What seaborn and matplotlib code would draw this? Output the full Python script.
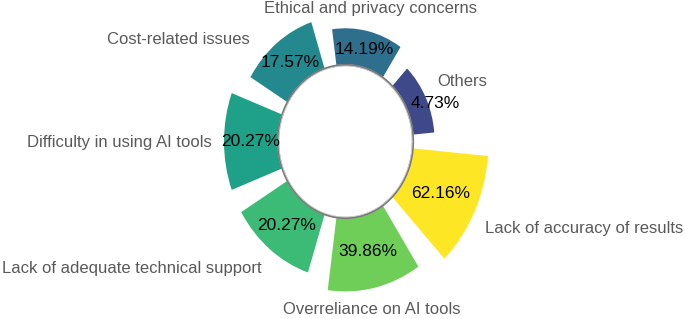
import numpy as np
import matplotlib
matplotlib.use("Agg")
import matplotlib.pyplot as plt
import seaborn as sns

# data, ascending, placed counter-clockwise starting from "Others"
categories = ["Others", "Ethical and privacy concerns", "Cost-related issues",
              "Difficulty in using AI tools", "Lack of adequate technical support",
              "Overreliance on AI tools", "Lack of accuracy of results"]
values = [4.73, 14.19, 17.57, 20.27, 20.27, 39.86, 62.16]
pct_labels = ["4.73%", "14.19%", "17.57%", "20.27%", "20.27%", "39.86%", "62.16%"]

# category label anchors in pixels (x, y from top, ha)
label_pos = [(437, 81, "left"), (370, 9, "center"), (250, 40, "right"),
             (212, 142, "right"), (262, 269, "right"), (372, 310, "center"),
             (485, 228, "left")]

sns.set_theme(style="white")
plt.rcParams["font.family"] = ["Liberation Sans", "DejaVu Sans"]

W, H = 685, 319
fig = plt.figure(figsize=(W / 100, H / 100), dpi=100)

# polar axes placed so that the (stretched) ring sits where it does in the picture
cx, cy = 345.5, 141.5
ux, uy = 10.8, 12.24          # px per radial unit, horizontal / vertical
R = 14.5
ax = fig.add_axes([(cx - R * ux) / W, (H - cy - R * uy) / H,
                   2 * R * ux / W, 2 * R * uy / H], projection="polar")
ax.set_aspect("auto")

n = len(values)
step = 2 * np.pi / n
theta = np.radians(25.714) + step * np.arange(n)

# bar length follows the dense rank of the value
uniq = sorted(set(values))
heights = [uniq.index(v) + 2 for v in values]
base = 6.25

cmap = sns.color_palette("viridis", as_cmap=True)
cpos = [0.22, 0.36, 0.47, 0.565, 0.68, 0.78, 1.0]
colors = [cmap(p) for p in cpos]

ax.bar(theta, heights, width=step * 0.8, bottom=base, color=colors,
       edgecolor="none", align="center")

ring = np.linspace(0, 2 * np.pi, 400)
ax.fill(ring, np.full_like(ring, base), color="white", zorder=3)
ax.plot(ring, np.full_like(ring, base), color="#7a7a7a", lw=1.6, zorder=4)
ax.plot(ring, np.full_like(ring, base - 0.08), color="#d0d0d0", lw=0.6, zorder=4)

for i in range(n):
    t = theta[i]
    r = base + heights[i] / 2
    if heights[i] <= 2:
        # small bar: label spills past the bar end
        r = base + heights[i] + 0.65
        t = theta[i] - np.radians(5.5)
    ax.text(t, r, pct_labels[i], ha="center", va="center",
            fontsize=12.5, color="black", zorder=5)

ax.set_ylim(0, R)
ax.set_axis_off()

for (x, y, ha), name in zip(label_pos, categories):
    fig.text(x / W, 1 - y / H, name, ha=ha, va="center", fontsize=12,
             color="#595959")

fig.savefig("out.png", dpi=100)
